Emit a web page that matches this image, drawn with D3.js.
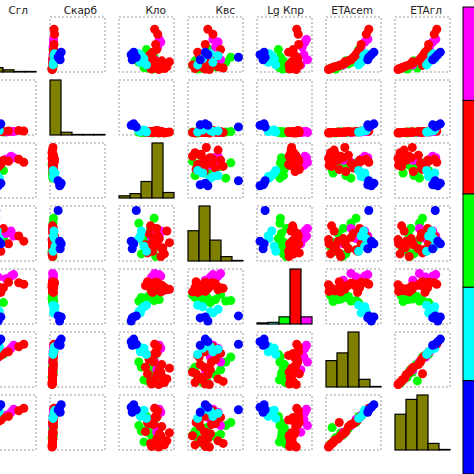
<!DOCTYPE html>
<html><head><meta charset="utf-8">
<script src="https://cdn.jsdelivr.net/npm/d3@7"></script>
<style>body{margin:0;background:#fff}</style>
</head><body><div id="chart"></div>
<script>
const names = ["Сгл", "Скарб", "Кло", "Квс", "Lg Кпр", "ETAcem", "ETAгл"];
const classColors = ["#0000ff", "#00ffff", "#00ff00", "#ff0000", "#ff00ff"];

// rows: Сгл, Скарб, Кло, Квс, LgКпр, ETAcem, ETAгл, class
const rows = [
[0.30,0.15,0.20,0.35,0.02,0.85,0.80,0],[0.35,0.18,0.25,0.30,0.10,0.90,0.85,0],
[0.25,0.12,0.30,0.95,0.12,0.80,0.75,0],[0.20,0.16,0.22,0.20,0.08,0.78,0.70,0],
[0.32,0.05,0.35,0.40,0.20,0.75,0.72,1],[0.28,0.04,0.40,0.55,0.25,0.70,0.68,1],
[0.22,0.06,0.45,0.25,0.30,0.72,0.74,1],[0.15,0.03,0.38,0.45,0.18,0.65,0.62,1],
[0.10,0.02,0.50,0.15,0.33,0.60,0.58,1],
[0.05,0.01,0.45,0.30,0.40,0.10,0.12,2],[0.08,0.02,0.55,0.35,0.45,0.25,0.30,2],
[0.12,0.02,0.60,0.20,0.50,0.40,0.38,2],[0.25,0.03,0.65,0.80,0.42,0.55,0.50,2],
[0.03,0.01,0.70,0.25,0.52,0.05,0.08,2],[0.40,0.02,0.50,0.40,0.38,0.60,0.62,2],
[0.18,0.01,0.40,0.10,0.48,0.35,0.33,2],[0.06,0.02,0.75,0.50,0.44,0.20,0.22,2],
[0.10,0.01,0.58,0.60,0.54,0.30,0.27,2],[0.02,0.00,0.62,0.15,0.46,0.15,0.20,2],
[0.15,0.02,0.35,0.70,0.41,0.45,0.44,2],[0.04,0.01,0.52,0.33,0.49,0.08,0.40,2],
[0.09,0.02,0.68,0.05,0.53,0.28,0.25,2],
[0.45,0.02,0.72,0.50,0.85,0.65,0.64,4],[0.55,0.03,0.78,0.55,0.90,0.72,0.70,4],
[0.30,0.02,0.60,0.40,0.88,0.55,0.56,4],[0.20,0.01,0.66,0.60,0.95,0.45,0.44,4],
[0.10,0.01,0.70,0.30,0.82,0.30,0.31,4],[0.60,0.03,0.75,0.45,0.93,0.78,0.76,4],
[0.02,0.01,0.60,0.30,0.60,0.02,0.03,3],[0.05,0.01,0.65,0.25,0.62,0.10,0.10,3],
[0.08,0.02,0.70,0.35,0.65,0.20,0.18,3],[0.12,0.02,0.75,0.40,0.70,0.30,0.28,3],
[0.18,0.03,0.80,0.20,0.72,0.40,0.42,3],[0.25,0.02,0.55,0.50,0.75,0.50,0.48,3],
[0.35,0.03,0.62,0.15,0.58,0.58,0.55,3],[0.50,0.04,0.68,0.30,0.78,0.65,0.62,3],
[0.70,0.05,0.72,0.45,0.77,0.75,0.73,3],[0.80,0.04,0.66,0.35,0.74,0.80,0.78,3],
[0.03,0.00,0.85,0.10,0.68,0.05,0.06,3],[0.06,0.01,0.90,0.55,0.63,0.12,0.14,3],
[0.04,0.01,0.58,0.65,0.66,0.07,0.09,3],[0.14,0.02,0.48,0.28,0.71,0.35,0.32,3],
[0.10,0.01,0.78,0.05,0.59,0.25,0.24,3],[0.20,0.02,0.64,0.42,0.76,0.45,0.46,3],
[0.07,0.01,0.82,0.22,0.61,0.15,0.16,3],[0.30,0.03,0.57,0.18,0.69,0.55,0.52,3],
[0.01,0.00,0.74,0.38,0.73,0.01,0.02,3],[0.16,0.02,0.95,0.32,0.64,0.33,0.30,3],
[0.40,0.03,0.70,0.60,0.67,0.62,0.60,3],[0.09,0.01,0.52,0.12,0.79,0.22,0.50,3]
];
// diagonal histograms (relative heights, 5 bins each)
const histCounts = [
  [100, 8, 4, 1, 1],
  [100, 5, 1, 1, 1],
  [4, 8, 30, 100, 10],
  [55, 100, 38, 8, 1],
  [2, 3, 13, 100, 13],
  [48, 62, 100, 14, 1],
  [65, 92, 100, 12, 1]
];
const lgVar = 4;

const n = names.length;
const pitchX = 69, pitchY = 63, box = 55, gridLeft = -19, gridTop = 17;

const svg = d3.select("#chart").append("svg").attr("width", 474).attr("height", 474)
  .style("font-family", "'DejaVu Sans', sans-serif");

const sc = d3.scaleLinear().domain([0, 1]);
const order = [2, 4, 3, 1, 0];
const pts = rows.slice().sort((a, b) => order.indexOf(a[7]) - order.indexOf(b[7]));

for (let i = 0; i < n; i++) {
  for (let j = 0; j < n; j++) {
    const x0 = gridLeft + j * pitchX, y0 = gridTop + i * pitchY;
    const g = svg.append("g");
    if (i === j) {
      const xs = d3.scaleBand().domain(d3.range(5)).range([x0, x0 + box]);
      const ys = d3.scaleLinear().domain([0, 100]).range([y0 + box, y0]);
      g.selectAll("rect").data(histCounts[i]).join("rect")
        .attr("x", (c, k) => xs(k)).attr("width", xs.bandwidth())
        .attr("y", c => ys(c)).attr("height", c => y0 + box - ys(c))
        .attr("fill", (c, k) => i === lgVar ? classColors[k] : "#808000")
        .attr("stroke", "#000").attr("stroke-width", 1.2);
    } else {
      g.append("rect").attr("x", x0).attr("y", y0).attr("width", box).attr("height", box)
        .attr("fill", "none").attr("stroke", "#999").attr("stroke-dasharray", "2,2");
      const xs = sc.copy().range([x0 + 2, x0 + box - 2]);
      const ys = sc.copy().range([y0 + box - 2, y0 + 2]);
      g.selectAll("circle").data(pts).join("circle")
        .attr("cx", r => xs(r[j])).attr("cy", r => ys(r[i])).attr("r", 4.5)
        .attr("fill", r => classColors[r[7]]);
    }
    if (i === 0) {
      svg.append("text").attr("x", x0 + box - 8).attr("y", 14).attr("text-anchor", "end")
        .attr("font-size", 10.5).attr("fill", "#222").text(names[j]);
    }
  }
}

// colour bar
const cb = d3.scaleBand().domain(d3.range(5).reverse()).range([7, 474]).paddingInner(0);
svg.selectAll(".cb").data(d3.range(5)).join("rect")
  .attr("x", 463).attr("width", 12).attr("y", k => cb(k)).attr("height", cb.bandwidth())
  .attr("fill", k => classColors[k]).attr("stroke", "#000");
</script></body></html>
